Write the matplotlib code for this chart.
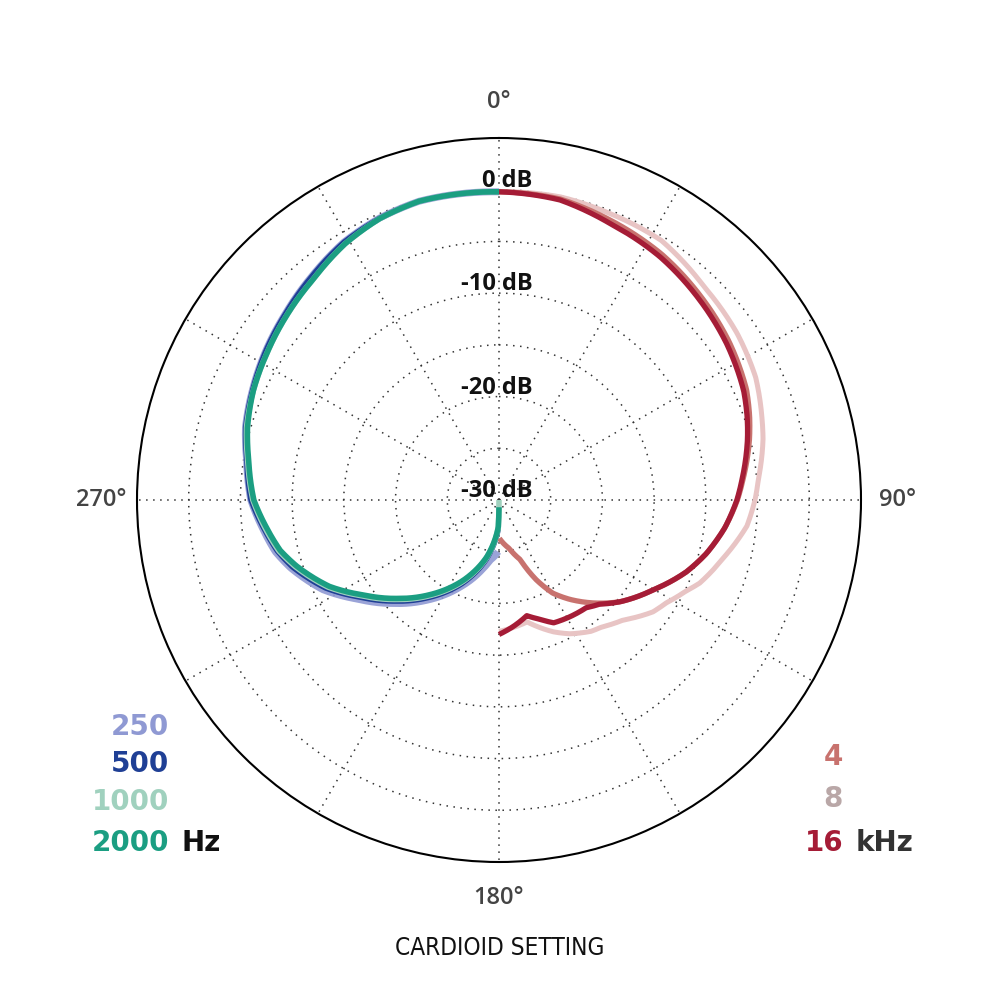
import numpy as np
import matplotlib
matplotlib.use("Agg")
import matplotlib.pyplot as plt

# ---------------- data (angle in degrees, clockwise from 0° at top; level in dB) -------------
ang_250 = [0, -15, -23, -31, -40, -49, -57, -66, -74, -81, -90, -97, -103, -108, -117, -125,
           -134, -144, -156, -166, -171.5, -176, -179]
db_250 = [-0.2, -0.1, -0.4, -0.9, -1.8, -2.6, -3.2, -3.9, -4.5, -5.3, -6.0, -7.0, -7.8, -8.8,
          -10.9, -13.3, -15.6, -18.0, -20.8, -23.0, -24.1, -24.6, -25.0]

ang_500 = [0, -15, -23, -31, -40, -49, -57, -66, -74, -81, -90, -97, -103, -108, -117, -125,
           -134, -144, -156, -168, -179]
db_500 = [-0.2, -0.1, -0.4, -0.9, -1.8, -2.6, -3.2, -3.9, -4.5, -5.3, -6.0, -7.1, -8.0, -9.0,
          -11.2, -13.6, -15.9, -18.3, -21.1, -24.1, -27.2]

ang_1000 = [0, -15, -23, -31, -40, -49, -57, -66, -74, -81, -90, -97, -103, -108, -117, -125,
            -134, -144, -156, -168, -178.5, -180]
db_1000 = [-0.2, -0.1, -0.45, -1.1, -2.1, -2.8, -3.4, -4.0, -4.6, -5.4, -6.2, -7.25, -8.15, -9.25,
           -11.45, -13.85, -16.15, -18.55, -21.35, -24.3, -27.3, -30.0]

ang_2000 = [0, -15, -23, -31, -40, -49, -57, -66, -74, -81, -90, -97, -103, -108, -117, -125,
            -134, -144, -156, -168, -178.5, -180]
db_2000 = [-0.2, -0.1, -0.45, -1.1, -2.1, -2.8, -3.4, -4.0, -4.7, -5.5, -6.3, -7.4, -8.3, -9.4,
           -11.6, -14.0, -16.3, -18.7, -21.5, -24.4, -27.4, -29.3]

ang_4k = [0, 11.5, 22, 33.5, 45, 55.5, 66, 71.5, 76.5, 85, 90, 97, 104.5, 111, 120, 130,
          137.5, 144.5, 150, 155, 160.5, 168, 179.5]
db_4k = [-0.2, -0.3, -0.9, -1.5, -2.3, -3.0, -3.8, -4.45, -5.1, -6.3, -6.95, -8.0, -9.3, -10.6,
         -12.7, -14.7, -16.5, -18.2, -19.6, -21.5, -23.9, -25.2, -26.3]

ang_8k = [0, 11.5, 21, 32, 44, 55, 64.5, 72.5, 77, 85.5, 90, 96, 104.5, 112.5, 116, 121.5,
          126, 134, 141, 145, 152, 157.5, 167, 173.5, 180]
db_8k = [-0.2, -0.1, -0.3, -0.4, -1.4, -1.9, -2.5, -3.35, -3.8, -4.85, -5.25, -5.9, -7.6, -9.0,
         -9.9, -11.0, -11.6, -13.3, -14.2, -14.5, -15.35, -16.2, -17.9, -17.6, -17.3]

ang_16k = [0, 11.5, 22, 33.5, 45, 55.5, 66, 71.5, 76.5, 85, 90, 97, 104.5, 111, 120, 123,
           130, 136, 141, 149, 156, 161, 166.5, 173.5, 180]
db_16k = [-0.2, -0.4, -1.2, -1.8, -2.6, -3.3, -4.1, -4.7, -5.3, -6.4, -7.0, -8.0, -9.3, -10.6,
          -12.7, -13.3, -14.7, -16.0, -16.6, -16.8, -17.0, -17.8, -18.5, -17.7, -17.0]

ring_levels = [-25, -20, -15, -10, -5, 0]
ring_labels = [0, -10, -20, -30]
spoke_angles = list(range(0, 360, 30))
angle_labels = {0: "0°", 90: "90°", 180: "180°", 270: "270°"}

low_names = ["250", "500", "1000", "2000"]
high_names = ["4", "8", "16"]

# ---------------- styling ----------------
FONT = ["Open Sans", "DejaVu Sans"]
LEGFONT = ["DejaVu Sans"]
c250, c500, c1000, c2000 = "#8f99d3", "#1f3f95", "#a0d1be", "#1b9e82"
c4k, c8k, c16k = "#c8726e", "#e8c4c4", "#a51c36"
c8k_text = "#b9a7a7"

fig = plt.figure(figsize=(10, 10), dpi=100)
ax = fig.add_axes([0.137, 0.138, 0.724, 0.724], projection="polar")
ax.set_theta_zero_location("N")
ax.set_theta_direction(-1)
ax.set_ylim(-30, 5)

ax.set_xticks(np.deg2rad(spoke_angles))
ax.set_xticklabels([])
ax.set_yticks(ring_levels)
ax.set_yticklabels([])
ax.tick_params(length=0)
ax.grid(True, color="#333333", linestyle=(0, (1, 3.6)), linewidth=1.1)
ax.spines["polar"].set_linewidth(1.5)
ax.spines["polar"].set_color("black")

def curve(a, d, color, lw, alpha=1.0, z=3):
    ln, = ax.plot(np.deg2rad(a), d, color=color, lw=lw, alpha=alpha, zorder=z,
                  solid_capstyle="butt", solid_joinstyle="round")
    # let the polar transform draw each segment as a spiral arc
    ln.get_path()._interpolation_steps = 40

curve(ang_250, db_250, c250, 5.0, 0.9, 3)
curve(ang_500, db_500, c500, 3.6, 1.0, 4)
curve(ang_1000, db_1000, c1000, 4.0, 1.0, 5)
curve(ang_2000, db_2000, c2000, 4.0, 1.0, 6)

curve(ang_8k, db_8k, c8k, 3.6, 1.0, 3)
curve(ang_4k, db_4k, c4k, 3.8, 1.0, 4)
curve(ang_16k, db_16k, c16k, 3.8, 1.0, 5)

for v in ring_labels:
    ax.annotate(f"{v} dB", xy=(0, v), xytext=(24, 2), textcoords="offset points",
                ha="right", va="baseline", fontsize=17, fontweight="bold",
                family=FONT, color="#111111", zorder=10, annotation_clip=False)

for a, lab in angle_labels.items():
    ax.text(np.deg2rad(a), 8.5, lab, ha="center", va="center", fontsize=17,
            fontweight="semibold", family=FONT, color="#444444", clip_on=False)

# ---------------- legends ----------------
low_colors = [c250, c500, c1000, c2000]
low_y = [726.7, 764, 801.7, 843.3]
for name, col, y in zip(low_names, low_colors, low_y):
    fig.text(169 / 1000, 1 - y / 1000, name, ha="right", va="center", fontsize=20,
             fontweight="bold", family=LEGFONT, color=col)
fig.text(181 / 1000, 1 - low_y[-1] / 1000, "Hz", ha="left", va="center", fontsize=20,
         fontweight="bold", family=LEGFONT, color="#111111")

high_colors = [c4k, c8k_text, c16k]
high_y = [757.3, 799.3, 843.3]
for name, col, y in zip(high_names, high_colors, high_y):
    fig.text(843 / 1000, 1 - y / 1000, name, ha="right", va="center", fontsize=20,
             fontweight="bold", family=LEGFONT, color=col)
fig.text(856 / 1000, 1 - high_y[-1] / 1000, "kHz", ha="left", va="center", fontsize=20,
         fontweight="bold", family=LEGFONT, color="#333333")

fig.text(0.5, 1 - 948 / 1000, "CARDIOID SETTING", ha="center", va="center", fontsize=17.5,
         family=["DejaVu Sans"], fontstretch="condensed", color="#111111")

fig.savefig("out.png", dpi=100, facecolor="white")
